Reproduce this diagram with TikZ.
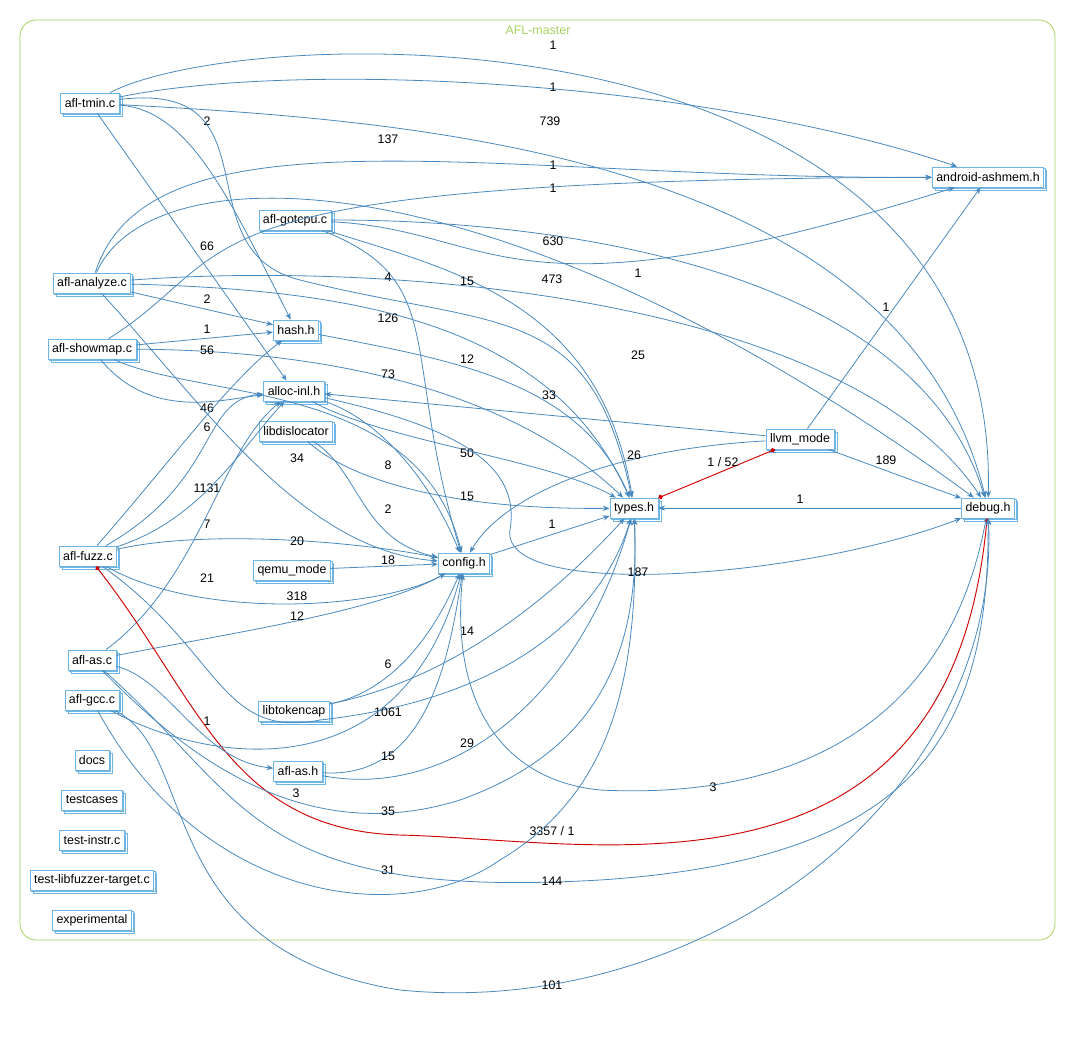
\documentclass[tikz,border=0pt]{standalone}
\usepackage{fontspec}
\setmainfont{Liberation Sans}
\usetikzlibrary{shadows,arrows.meta}
\definecolor{edge}{HTML}{4A89BD}
\definecolor{nb}{HTML}{6FB6E4}
\definecolor{grn}{HTML}{A8D060}
\definecolor{rd}{HTML}{D00000}
\begin{document}
\begin{tikzpicture}[x=0.75pt,y=-0.75pt,font=\fontsize{9.3}{10}\selectfont,
 box/.style={draw=nb,fill=white,line width=0.6pt,inner sep=3pt,minimum height=15pt,
   double copy shadow={shadow xshift=1.1pt,shadow yshift=-1.1pt,opacity=1,draw=nb,fill=white,line width=0.5pt}},
 e/.style={draw=edge,line width=0.6pt,-{Stealth[length=5pt,width=4pt]}},
 r/.style={draw=rd,line width=0.7pt,{Circle[length=3.5pt]}-{Circle[length=3.5pt]}},
 lab/.style={}]
\useasboundingbox (0,0) rectangle (1075,1040);
\draw[grn,rounded corners=12pt,line width=0.6pt] (20,20) rectangle (1055,940);
\node[text=grn] (title) at (538,30) {AFL-master};
\node[box] (tmin) at (90,103) {afl-tmin.c};
\node[box] (ash) at (988,177) {android-ashmem.h};
\node[box] (got) at (295,220) {afl-gotcpu.c};
\node[box] (ana) at (92,283) {afl-analyze.c};
\node[box] (hash) at (296,330) {hash.h};
\node[box] (show) at (92,349) {afl-showmap.c};
\node[box] (alloc) at (294,391) {alloc-inl.h};
\node[box] (dis) at (296,431) {libdislocator};
\node[box] (llvm) at (800,439) {llvm\_mode};
\node[box] (types) at (634,508) {types.h};
\node[box] (debug) at (988,508) {debug.h};
\node[box] (fuzz) at (88,556) {afl-fuzz.c};
\node[box] (cfg) at (464,563) {config.h};
\node[box] (qemu) at (292,570) {qemu\_mode};
\node[box] (as) at (92,660) {afl-as.c};
\node[box] (gcc) at (92,700) {afl-gcc.c};
\node[box] (tok) at (294,711) {libtokencap};
\node[box] (ash2) at (298,771) {afl-as.h};
\node[box] (docs) at (92,760) {docs};
\node[box] (tc) at (92,800) {testcases};
\node[box] (ti) at (92,840) {test-instr.c};
\node[box] (tl) at (92,880) {test-libfuzzer-target.c};
\node[box] (exp) at (92,920) {experimental};
% edges
\draw[e] (tmin) .. controls (250,20) and (1000,0) .. (debug);
\node[lab] at (553,45) {1};
\draw[e] (tmin) .. controls (300,60) and (700,80) .. (ash);
\node[lab] at (553,87) {1};
\draw[e] (tmin) .. controls (400,120) and (900,150) .. (debug);
\node[lab] at (550,121) {739};
\draw[e] (tmin) .. controls (190,110) and (230,200) .. (hash);
\node[lab] at (207,121) {2};
\draw[e] (tmin) -- (alloc);
\node[lab] at (207,246) {66};
\draw[e] (tmin) .. controls (280,80) and (180,250) .. (300,280) .. controls (500,330) and (590,300) .. (types);
\node[lab] at (388,139) {137};
\draw[e] (ana) .. controls (150,100) and (500,180) .. (ash);
\node[lab] at (553,165) {1};
\draw[e] (show) .. controls (250,250) and (150,180) .. (ash);
\node[lab] at (553,188) {1};
\draw[e] (got) .. controls (400,220) and (900,220) .. (debug);
\node[lab] at (553,241) {630};
\draw[e] (got) .. controls (500,230) and (500,330) .. (ash);
\node[lab] at (638,273) {1};
\draw[e] (got) .. controls (450,280) and (400,350) .. (cfg);
\node[lab] at (388,277) {4};
\draw[e] (got) .. controls (450,270) and (600,300) .. (types);
\node[lab] at (467,281) {15};
\draw[e] (ana) .. controls (150,150) and (500,150) .. (debug);
\node[lab] at (552,279) {473};
\draw[e] (ana) -- (hash);
\node[lab] at (207,299) {2};
\draw[e] (ana) .. controls (350,290) and (550,320) .. (types);
\node[lab] at (388,318) {126};
\draw[e] (show) -- (hash);
\node[lab] at (207,329) {1};
\draw[e] (show) .. controls (300,350) and (500,380) .. (types);
\node[lab] at (207,350) {56};
\draw[e] (hash) .. controls (450,360) and (580,380) .. (types);
\node[lab] at (467,359) {12};
\draw[e] (ana) .. controls (400,260) and (850,300) .. (debug);
\node[lab] at (638,355) {25};
\draw[e] (show) .. controls (200,400) and (420,380) .. (cfg);
\node[lab] at (388,374) {73};
\draw[e] (llvm) -- (ash);
\node[lab] at (886,307) {1};
\draw[e] (llvm) -- (alloc);
\node[lab] at (549,395) {33};
\draw[e] (show) .. controls (150,420) and (220,400) .. (alloc);
\node[lab] at (207,408) {46};
\draw[e] (fuzz) .. controls (180,450) and (230,380) .. (hash);
\node[lab] at (207,427) {6};
\draw[e] (alloc) .. controls (380,420) and (430,480) .. (cfg);
\node[lab] at (388,465) {8};
\draw[e] (alloc) .. controls (380,440) and (550,460) .. (types);
\node[lab] at (467,453) {50};
\draw[e] (llvm) .. controls (600,450) and (500,500) .. (cfg);
\node[lab] at (634,455) {26};
\draw[r] (llvm) -- (types);
\node[lab] at (723,462) {1 / 52};
\draw[e] (llvm) -- (debug);
\node[lab] at (886,460) {189};
\draw[e] (dis) .. controls (360,470) and (360,540) .. (cfg);
\node[lab] at (388,509) {2};
\draw[e] (dis) .. controls (350,480) and (450,510) .. (types);
\node[lab] at (467,496) {15};
\draw[e] (ana) .. controls (200,400) and (300,550) .. (cfg);
\node[lab] at (297,458) {34};
\draw[e] (fuzz) .. controls (220,480) and (200,400) .. (alloc);
\node[lab] at (207,488) {1131};
\draw[e] (debug) -- (types);
\node[lab] at (800,499) {1};
\draw[e] (cfg) -- (types);
\node[lab] at (552,524) {1};
\draw[e] (fuzz) .. controls (200,530) and (350,540) .. (cfg);
\node[lab] at (297,541) {20};
\draw[e] (fuzz) .. controls (200,520) and (240,450) .. (alloc);
\node[lab] at (207,524) {7};
\draw[e] (qemu) -- (cfg);
\node[lab] at (388,560) {18};
\draw[e] (alloc) .. controls (470,430) and (520,470) .. (510,530) .. controls (500,600) and (800,580) .. (debug);
\node[lab] at (638,572) {187};
\draw[e] (fuzz) .. controls (200,620) and (380,610) .. (cfg);
\node[lab] at (297,596) {318};
\draw[e] (as) .. controls (250,630) and (380,610) .. (cfg);
\node[lab] at (297,616) {12};
\draw[e] (as) .. controls (200,580) and (220,450) .. (alloc);
\node[lab] at (207,578) {21};
\draw[r] (fuzz) .. controls (200,700) and (230,830) .. (400,835) .. controls (600,840) and (950,920) .. (debug);
\node[lab] at (552,831) {3357 / 1};
\draw[e] (tok) .. controls (400,690) and (440,620) .. (cfg);
\node[lab] at (388,664) {6};
\draw[e] (tok) .. controls (450,680) and (550,600) .. (types);
\node[lab] at (467,631) {14};
\draw[e] (fuzz) .. controls (220,650) and (220,740) .. (320,720) .. controls (500,700) and (600,620) .. (types);
\node[lab] at (388,712) {1061};
\draw[e] (as) .. controls (170,680) and (200,760) .. (ash2);
\node[lab] at (207,721) {1};
\draw[e] (ash2) .. controls (430,780) and (450,650) .. (cfg);
\node[lab] at (388,756) {15};
\draw[e] (ash2) .. controls (450,800) and (580,700) .. (types);
\node[lab] at (467,743) {29};
\draw[e] (debug) .. controls (950,720) and (800,800) .. (600,790) .. controls (500,780) and (450,700) .. (cfg);
\node[lab] at (713,787) {3};
\draw[e] (gcc) .. controls (200,760) and (400,800) .. (cfg);
\node[lab] at (296,793) {3};
\draw[e] (as) .. controls (180,750) and (300,850) .. (460,800) .. controls (600,750) and (640,650) .. (types);
\node[lab] at (388,811) {35};
\draw[e] (gcc) .. controls (200,900) and (400,930) .. (500,860) .. controls (600,800) and (640,700) .. (types);
\node[lab] at (388,870) {31};
\draw[e] (as) .. controls (250,800) and (250,900) .. (600,880) .. controls (900,860) and (990,750) .. (debug);
\node[lab] at (552,881) {144};
\draw[e] (gcc) .. controls (200,750) and (150,950) .. (400,990) .. controls (700,1020) and (1000,800) .. (debug);
\node[lab] at (552,985) {101};
\end{tikzpicture}
\end{document}
